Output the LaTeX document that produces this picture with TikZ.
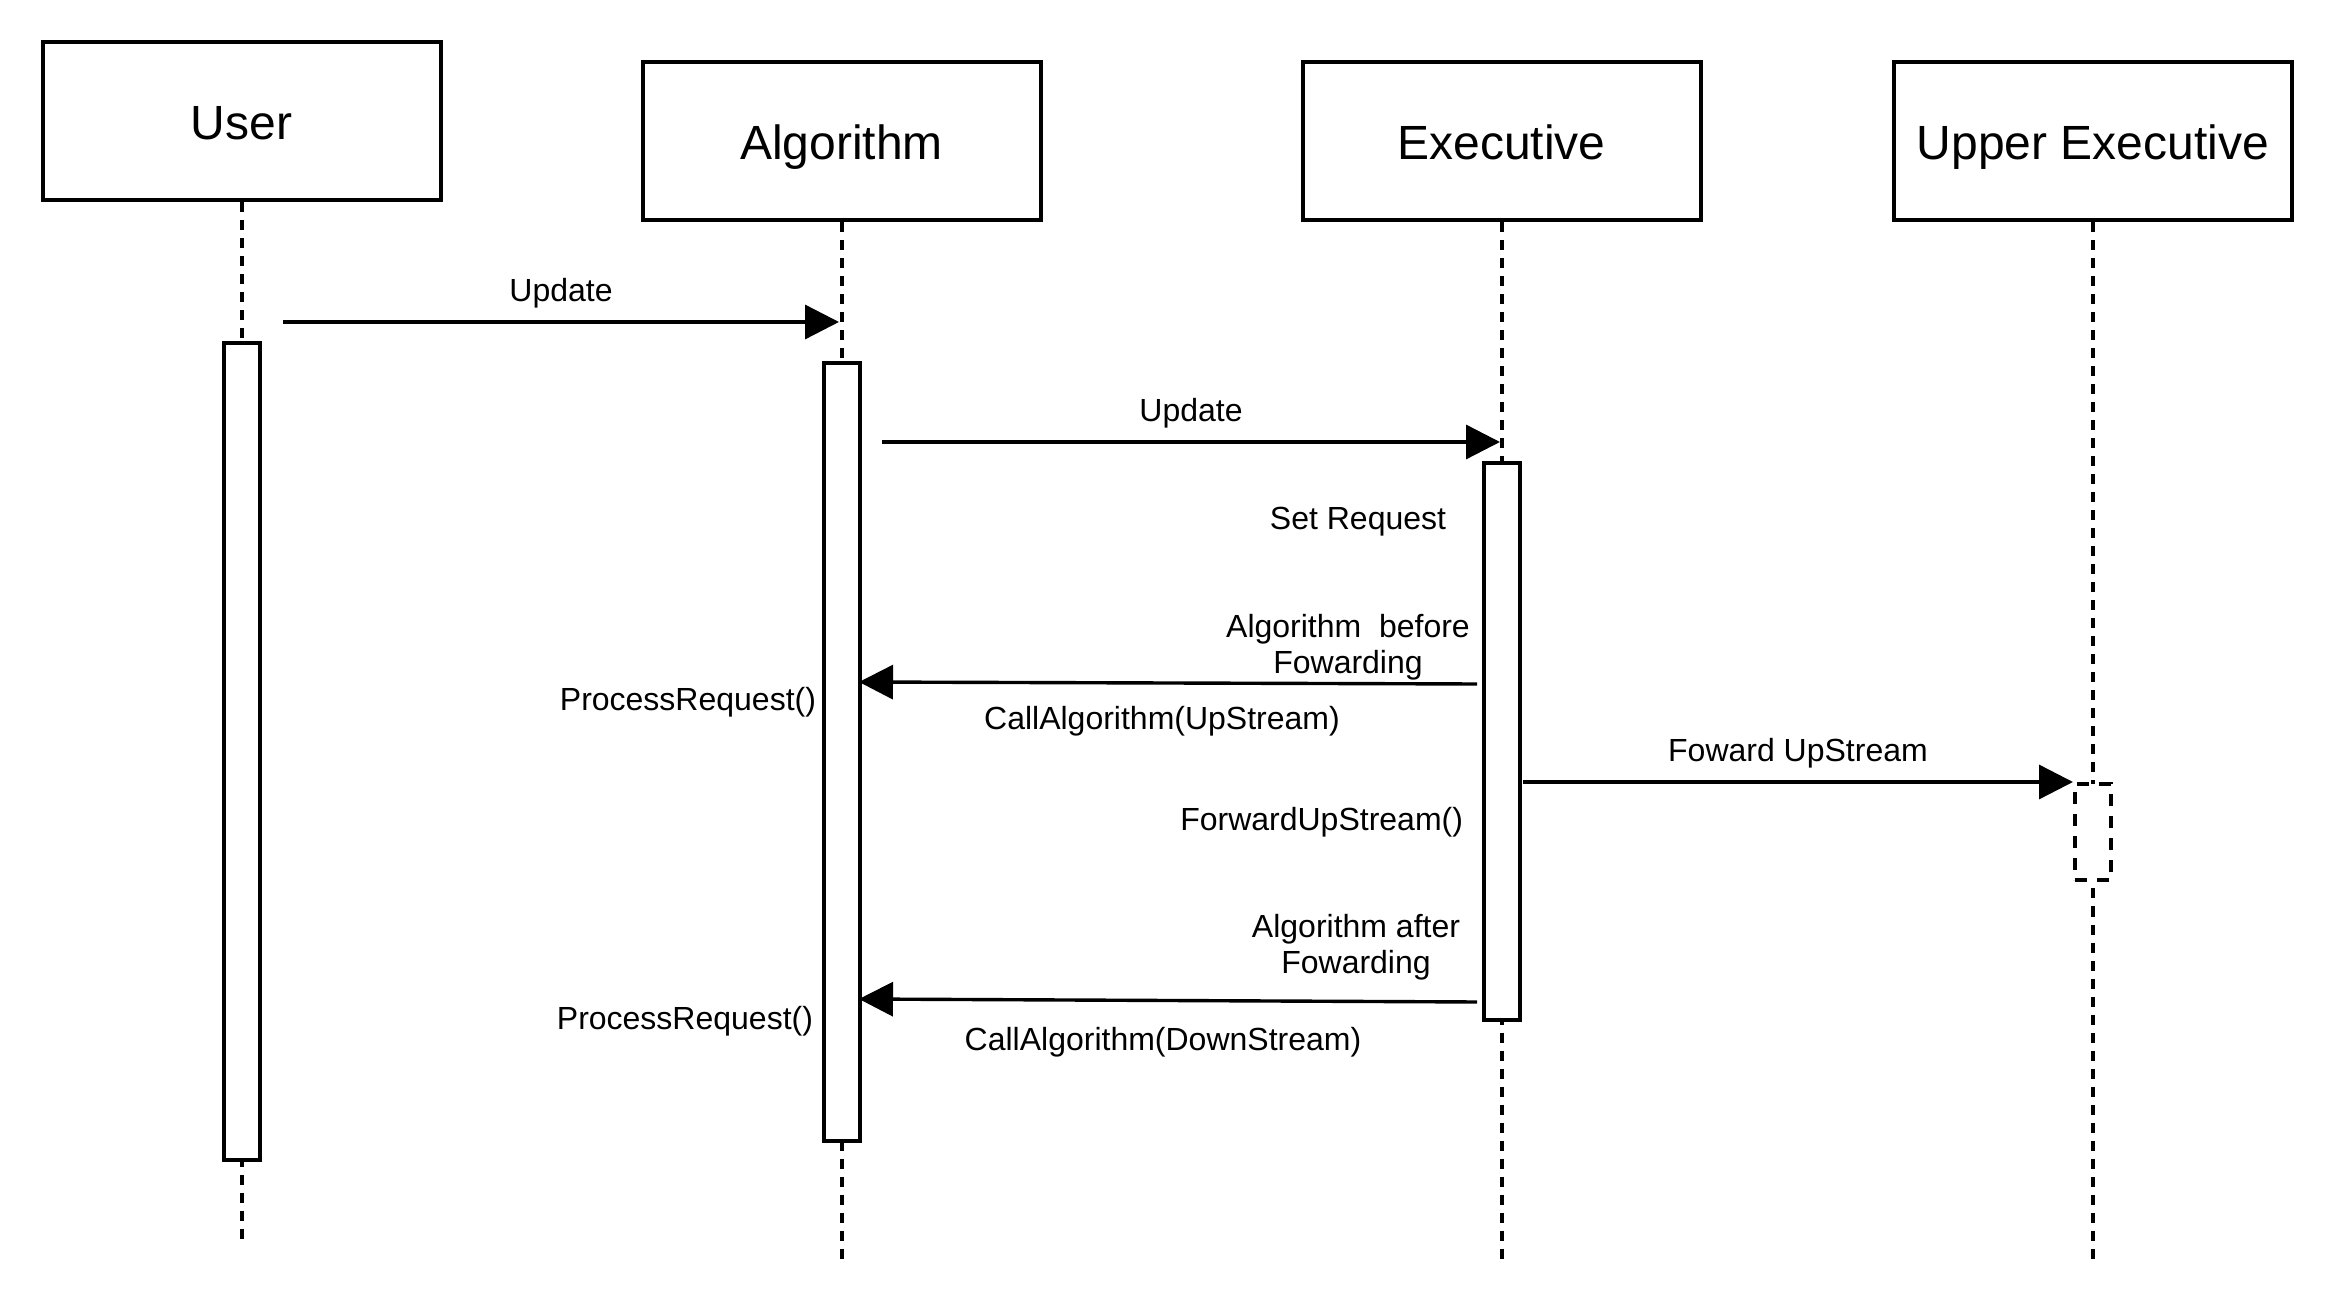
\documentclass[tikz,border=0pt]{standalone}
\usepackage{fontspec}
\setmainfont{Liberation Sans}
\usepackage{tikz}
\tikzstyle{lifeline} = [dash pattern=on 5pt off 4pt]
\usetikzlibrary{arrows.meta}
\usetikzlibrary{positioning}

\begin{document}
\begin{tikzpicture}[x=0.5pt,y=-0.5pt,
                    line width=2pt,
                    actor node/.style={draw,minimum width=199pt,minimum height=79pt,inner sep=0pt,
                                       text height=21pt,text depth=3pt,font=\fontsize{24}{28}\selectfont},
                    act node/.style={draw,fill=white,minimum width=18pt,inner sep=0pt},
                    msg/.style={line width=1.7pt,-{Triangle[length=17pt,width=17pt]}},
                    msg label/.style={font=\fontsize{16}{18}\selectfont,align=center,inner sep=0pt}]

  \useasboundingbox (0,0) rectangle (2336,1304);

  \node[actor node] (user) at (241.5,121.5) {User};
  \node[actor node] (alg) at (841.5,141.5) {Algorithm};
  \node[actor node] (exe) at (1501.5,141.5) {Executive};
  \node[actor node] (upper) at (2093,141.5) {Upper Executive};

  % lifelines
  \coordinate (userend) at (241.5,1242);
  \coordinate (algend) at (841.5,1261);
  \coordinate (exeend) at (1501.5,1261);
  \coordinate (upperend) at (2093,1261);
  \path[lifeline]
  (user) edge (userend)
  (alg) edge (algend)
  (exe) edge (exeend)
  (upper) edge (upperend)
  ;

  \node[act node,minimum height=408.5pt] (useract) at (241.5,751.5) {};
  \node[act node,minimum height=389pt] (algact) at (841.5,752) {};
  \node[act node,minimum height=278.5pt] (exeact) at (1501.5,741.5) {};
  \node[act node,minimum height=48pt,dash pattern=on 6pt off 5pt] (upperact) at (2093,832) {};

  \coordinate (m1a) at (283,322);
  \coordinate (m1b) at (839,322);
  \coordinate (m2a) at (882,442);
  \coordinate (m2b) at (1500,442);
  \coordinate (m3a) at (1477,684);
  \coordinate (m3b) at (859,682);
  \coordinate (m4a) at (1523,782);
  \coordinate (m4b) at (2073,782);
  \coordinate (m5a) at (1477,1002);
  \coordinate (m5b) at (859,999);

  \path[msg]
  (m1a) edge node[msg label,above=6pt] {Update} (m1b)
  (m2a) edge node[msg label,above=6pt] {Update} (m2b)
  (m3a) edge (m3b)
  (m4a) edge node[msg label,above=6pt] {Foward UpStream} (m4b)
  (m5a) edge (m5b)
  ;

  \node[msg label] (setreq) at (1358,522) {Set Request};
  \node[msg label] (before) at (1348,647) {Algorithm\ \ before\\Fowarding};
  \node[msg label,anchor=east] (proc1) at (818,702) {ProcessRequest()};
  \node[msg label] (callup) at (1162,721) {CallAlgorithm(UpStream)};
  \node[msg label,anchor=east] (fwdup) at (1465,822) {ForwardUpStream()};
  \node[msg label] (after) at (1356,947) {Algorithm after\\Fowarding};
  \node[msg label,anchor=east] (proc2) at (815,1021) {ProcessRequest()};
  \node[msg label] (calldown) at (1163,1042) {CallAlgorithm(DownStream)};
\end{tikzpicture}
\end{document}
